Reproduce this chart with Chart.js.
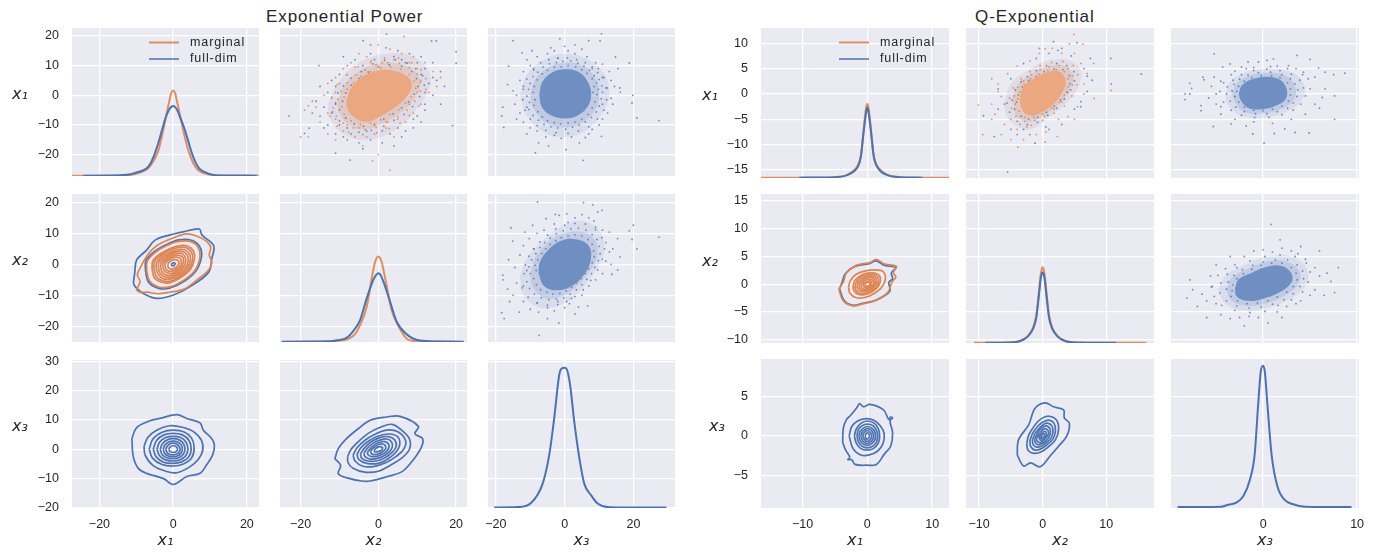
<!DOCTYPE html>
<html>
<head>
<meta charset="utf-8">
<title>Exponential Power and Q-Exponential</title>
<script src="https://cdn.jsdelivr.net/npm/chart.js@4/dist/chart.umd.min.js"></script>
<style>
  body { margin: 0; background: #fff; }
  canvas { position: absolute; filter: blur(0.3px); }
  .title { position: absolute; font: 17px "Liberation Sans", sans-serif; letter-spacing: 0.92px; color: #262626; top: 7px; white-space: nowrap; }
</style>
</head>
<body>
<div class="title" style="left:266px">Exponential Power</div>
<div class="title" style="left:975px">Q-Exponential</div>
<script>
// --- tick labels ---
const epTicksX12 = [-20, 0, 20];
const epTicksY12 = [20, 10, 0, -10, -20];
const epTicksY3 = [30, 20, 10, 0, -10, -20];
const qeTicksX12 = [-10, 0, 10];
const qeTicksX3 = [0, 10];
const qeTicksY1 = [10, 5, 0, -5, -10, -15];
const qeTicksY2 = [15, 10, 5, 0, -5, -10];
const qeTicksY3 = [5, 0, -5];
const legendNames = ['marginal', 'full-dim'];

// --- diagonal density curves, in the panel's axis units ---
const ep11Orange = [[-27.4,-27.05],[-20,-27.05],[-14,-27],[-11,-26.7],[-9,-26],[-7.2,-25],[-6,-23.4],[-5,-21.4],[-4,-18.6],[-3,-13.5],[-2,-7.5],[-1,-1.7],[-.5,.8],[0,1.6],[.5,.8],[1,-1.7],[2,-7.5],[3,-13.2],[4,-18],[5,-21.6],[6,-24],[7,-25.4],[8.5,-26.3],[11,-26.9],[15,-27.05],[23.2,-27.05]];
const ep11Blue = [[-24.4,-27.05],[-16,-27],[-12,-26.7],[-10,-26],[-8,-25.2],[-7,-24.4],[-6,-22.6],[-5,-19.7],[-4,-16],[-3,-11.6],[-2,-7.4],[-1,-4.6],[-.4,-3.8],[0,-3.6],[.5,-3.9],[1.2,-5.2],[2,-7.8],[3,-11],[4,-15],[5,-19.2],[6,-22.4],[7,-24.5],[8.5,-25.8],[11,-26.8],[15,-27],[22.7,-27.05]];
const ep22Orange = [[-24,-24.95],[-14,-24.9],[-10,-24.6],[-8,-24.2],[-6,-22.5],[-4.7,-19.6],[-3,-13.7],[-1.7,-4.5],[-.9,.5],[-.4,2.1],[0,2.5],[.4,2.1],[.9,.5],[2.1,-6.7],[3.4,-14.7],[5.2,-20],[7.3,-24],[9,-24.7],[14,-24.9],[21,-24.95]];
const ep22Blue = [[-24.9,-24.95],[-14,-24.9],[-10.5,-24.5],[-8.2,-23.7],[-6.5,-21.6],[-4.7,-18],[-3,-11],[-1.3,-5],[-.5,-3.3],[0,-2.9],[.5,-3.3],[1.3,-5.6],[3,-12],[4.7,-18.5],[7.3,-22.6],[10.7,-24.6],[15,-24.9],[22,-24.95]];
const ep33Blue = [[-20.5,-19.85],[-13.7,-19.7],[-9.8,-18.3],[-6.4,-11.7],[-4.5,-2],[-3,11],[-1.6,25.2],[-.9,27.5],[0,27.8],[.6,27.3],[1.6,21.8],[2.8,9.3],[4.3,-3.2],[5.7,-11.7],[7.7,-15.7],[9.6,-18.5],[12.5,-19.7],[17,-19.85],[29.6,-19.85]];
const qe11Orange = [[-16.4,-16.5],[-8,-16.5],[-5,-16.4],[-3.2,-16],[-2,-15],[-1.3,-13.6],[-.9,-11.4],[-.6,-7.5],[-.3,-3.8],[-.1,-2.2],[0,-2],[.1,-2.2],[.3,-3.8],[.6,-7.5],[.9,-11.4],[1.3,-13.6],[2,-15],[3.2,-16],[5,-16.4],[8,-16.5],[12.6,-16.5]];
const qe11Blue = [[-10.5,-16.5],[-5,-16.4],[-3.2,-16.05],[-2,-15.2],[-1.4,-14.2],[-1,-12.4],[-.6,-7.8],[-.25,-4.2],[-.1,-2.95],[0,-2.7],[.1,-2.95],[.25,-4.2],[.6,-7.8],[1,-12.4],[1.7,-14.7],[3.2,-16.05],[5,-16.4],[8.5,-16.5]];
const qe22Orange = [[-10.8,-10.55],[-5,-10.5],[-3.5,-10.2],[-2.4,-9.4],[-1.5,-7.8],[-1,-5.6],[-.6,-1.5],[-.3,1.8],[-.1,2.9],[0,3.05],[.1,2.9],[.3,1.8],[.6,-1.5],[1,-5.6],[1.5,-7.8],[2.4,-9.4],[3.5,-10.2],[5,-10.5],[9,-10.55],[16.3,-10.55]];
const qe22Blue = [[-9,-10.55],[-5,-10.5],[-3.5,-10.25],[-2.4,-9.5],[-1.5,-8],[-1,-6],[-.6,-2.1],[-.3,1],[-.1,2],[0,2.1],[.1,2],[.3,1],[.6,-2.1],[1,-6],[1.5,-8],[2.4,-9.5],[3.5,-10.25],[5,-10.5],[11.5,-10.55]];
const qe33Blue = [[-9.1,-9],[-4.45,-8.95],[-3.7,-8.7],[-2.85,-8.45],[-2.1,-7.6],[-1.4,-5.5],[-.9,-2.35],[-.53,3.95],[-.25,8.15],[0,8.9],[.18,8.15],[.46,3.95],[.9,-2.35],[1.5,-6.3],[2.3,-8.1],[3.2,-8.65],[4.45,-8.95],[9.4,-9]];

// --- contour loops, in axis units ---
const ep21Blue = [
  [[-10.8,-6.1],[-10.4,-2.5],[-9.9,1.4],[-7.2,4.6],[-4.9,7.8],[-.8,9.5],[2.8,10.5],[7.1,11.4],[7.8,9.5],[11,6],[10.5,1.9],[9.6,-2.6],[4.6,-7.2],[.1,-9.9],[-4.4,-11],[-8.1,-9.4],[-10.3,-7.2]],
  [[-7.5,-2.1],[-7.4,1.2],[-5.2,4],[-2.1,6.2],[1.5,7.9],[5.2,7.7],[7.2,5.7],[7.7,2.6],[6.2,-2.1],[3.1,-5.4],[-1,-7.7],[-4.1,-7.7],[-6.7,-5.7]],
  [[-.5,-.4],[-.3,.3],[.2,.5],[.5,.4],[.4,-.2],[-.1,-.5]]
];
const ep21Orange = [
  [[-10,-8.3],[-9,-5.6],[-9.7,-3.4],[-9,-1.3],[-7.5,2],[-5.5,5],[-3,7],[0,8.5],[3.5,9.8],[6,9.3],[9,7.5],[10.2,5.5],[9.8,3],[10.5,.5],[9.5,-2],[6.5,-5],[3,-8],[-1,-9],[-4,-9.5],[-7,-9],[-9,-9]],
  [[-7.2,-2],[-7,1],[-5,3.7],[-2,5.9],[1.5,7.4],[4.9,7.3],[6.8,5.4],[7.3,2.4],[5.9,-2],[2.9,-5.1],[-1,-7.3],[-3.9,-7.3],[-6.4,-5.4]],
  [[-5.7,-1.6],[-5.6,.9],[-3.9,3],[-1.5,4.7],[1.2,5.9],[3.9,5.9],[5.5,4.3],[5.8,1.9],[4.7,-1.6],[2.3,-4.1],[-.8,-5.9],[-3.1,-5.8],[-5.1,-4.3]],
  [[-5.2,-1.4],[-5.1,.8],[-3.5,2.7],[-1.4,4.3],[1.1,5.4],[3.5,5.4],[5,3.9],[5.3,1.7],[4.3,-1.4],[2.1,-3.7],[-.7,-5.4],[-2.8,-5.3],[-4.6,-3.9]],
  [[-4.6,-1.3],[-4.5,.6],[-3.1,2.4],[-1.2,3.7],[1,4.7],[3.1,4.7],[4.4,3.4],[4.7,1.5],[3.8,-1.3],[1.9,-3.3],[-.6,-4.7],[-2.5,-4.7],[-4,-3.4]],
  [[-4,-1.1],[-3.9,.6],[-2.7,2.1],[-1,3.3],[.8,4.1],[2.7,4.1],[3.8,3],[4.1,1.3],[3.3,-1.1],[1.6,-2.9],[-.5,-4.1],[-2.2,-4.1],[-3.5,-3]],
  [[-3.4,-.9],[-3.3,.5],[-2.3,1.7],[-.9,2.8],[.7,3.5],[2.3,3.5],[3.2,2.5],[3.4,1.1],[2.8,-.9],[1.4,-2.4],[-.4,-3.5],[-1.9,-3.5],[-3,-2.5]],
  [[-2.8,-.7],[-2.7,.4],[-1.9,1.4],[-.7,2.3],[.6,2.9],[1.9,2.8],[2.7,2.1],[2.8,.9],[2.3,-.7],[1.1,-2],[-.3,-2.9],[-1.5,-2.8],[-2.4,-2.1]],
  [[-2.2,-.6],[-2.1,.3],[-1.5,1.1],[-.6,1.8],[.5,2.3],[1.5,2.2],[2.1,1.6],[2.2,.7],[1.8,-.6],[.9,-1.5],[-.3,-2.2],[-1.2,-2.2],[-1.9,-1.6]],
  [[-1.5,-.4],[-1.2,.5],[-.4,1.2],[.6,1.5],[1.4,1.1],[1.5,.2],[.8,-.9],[-.2,-1.5],[-1.1,-1.3]]
];
const ep31Blue = [
  [[-11.2,3.6],[-9.9,7.4],[-6.3,9.7],[-3.6,10.5],[1,11.8],[3.7,10.5],[7.3,9],[8.2,6.5],[10.5,3.6],[11.2,1.4],[10.7,-2],[9.1,-5.3],[7.3,-8.2],[3.7,-9.3],[.1,-12],[-2.6,-10],[-7.2,-8.2],[-9.4,-6.6],[-10.8,-2.6]],
  [[-7.9,1],[-6.9,4],[-4.5,6.5],[-1,8],[2.5,7.5],[5.5,6],[7.7,3],[8,-.5],[6.8,-3.5],[4.5,-6],[1,-8],[-2,-7.5],[-5.5,-5.5],[-7.6,-2]],
  [[-6.5,0],[-5.5,3.5],[-3,5.8],[0,6.5],[3,5.9],[5,3.8],[5.7,.5],[5,-3],[2.8,-5],[0,-5.7],[-3,-5.2],[-5.6,-3]],
  [[-5.4,0],[-4.5,3],[-2.5,4.9],[0,5.4],[2.5,4.9],[4.3,3],[4.9,0],[4.2,-2.6],[2.3,-4.3],[0,-4.8],[-2.6,-4.4],[-4.6,-2.6]],
  [[-4.4,0],[-3.7,2.4],[-2,4],[0,4.4],[2,4],[3.5,2.4],[4,0],[3.4,-2.2],[1.9,-3.6],[0,-4],[-2.1,-3.6],[-3.7,-2.2]],
  [[-3.5,0],[-2.9,1.9],[-1.6,3.2],[0,3.6],[1.6,3.2],[2.8,1.9],[3.2,0],[2.7,-1.8],[1.5,-2.9],[0,-3.2],[-1.7,-2.9],[-3,-1.8]],
  [[-2.7,0],[-2.2,1.5],[-1.2,2.5],[0,2.8],[1.2,2.5],[2.2,1.5],[2.5,0],[2.1,-1.4],[1.1,-2.3],[0,-2.5],[-1.3,-2.3],[-2.3,-1.4]],
  [[-2,0],[-1.6,1],[-.9,1.8],[0,2.1],[.9,1.8],[1.6,1],[1.9,0],[1.6,-1],[.8,-1.7],[0,-1.9],[-1,-1.7],[-1.7,-1]],
  [[-1.2,0],[-.9,.7],[0,1.2],[.9,.8],[1.2,0],[.9,-.7],[0,-1.1],[-.9,-.7]]
];
const ep32Blue = [
  [[-11.2,-3.2],[-10.3,.2],[-8.2,3.6],[-5.2,7],[-2.1,9.9],[2.1,11],[5.6,11.2],[10.3,7.8],[9.4,5.3],[11.4,3.6],[10.9,.2],[8.2,-4.9],[6,-7.7],[2.6,-9.2],[-2.1,-10.8],[-4.3,-10.8],[-7.3,-10],[-10.3,-8.3],[-9.7,-5.5]],
  [[-7.9,-2.5],[-7,0],[-5,2.8],[-2.5,5.5],[.5,7.5],[3.5,8.5],[6,6.5],[8,3.5],[8,0],[6,-3],[3,-5.5],[0,-7.5],[-3.5,-7.8],[-6.5,-6.5],[-7.8,-4.5]],
  [[-6.5,-2],[-5.5,.5],[-3.5,3],[-1,5],[2,6.5],[5,6],[7,3],[6.5,0],[4.5,-2.5],[2,-4.5],[-1,-5.8],[-4,-5.8],[-6,-4]],
  [[-5.5,-1.8],[-4.5,.5],[-2.5,2.8],[0,4.5],[2.8,5.2],[5,4.2],[5.5,1.5],[4.5,-1],[2.5,-3.2],[0,-4.8],[-3,-4.8],[-5,-3.5]],
  [[-4.6,-1.6],[-3.6,.4],[-2,2.4],[.2,3.9],[2.6,4.3],[4.2,3.2],[4.6,1],[3.6,-1],[1.8,-2.8],[-.5,-4],[-2.8,-4],[-4.3,-3]],
  [[-3.7,-1.3],[-2.8,.4],[-1.4,2],[.4,3.1],[2.2,3.5],[3.4,2.5],[3.6,.8],[2.8,-.9],[1.3,-2.3],[-.5,-3.2],[-2.3,-3.3],[-3.5,-2.4]],
  [[-2.8,-1],[-2,.3],[-1,1.5],[.4,2.4],[1.7,2.6],[2.6,1.8],[2.7,.5],[2.1,-.7],[1,-1.7],[-.4,-2.4],[-1.8,-2.5],[-2.7,-1.8]],
  [[-2,-.7],[-1.4,.3],[-.6,1.1],[.3,1.7],[1.2,1.8],[1.8,1.2],[1.9,.3],[1.4,-.5],[.7,-1.2],[-.3,-1.7],[-1.3,-1.8],[-1.9,-1.3]],
  [[-1.1,-.4],[-.6,.3],[.1,.8],[.9,.8],[1.1,.2],[.7,-.4],[-.1,-.8],[-.9,-.9]]
];
const qe21Blue = [
  [[-4.3,-.8],[-3.9,.3],[-3.4,1.9],[-1.9,3.2],[.3,3.7],[1.3,4.2],[2.7,3.4],[4.4,3],[3.7,2],[3.9,1],[3.3,.3],[3.5,-1.2],[1.3,-2.9],[-.6,-3.4],[-2.2,-3.8],[-3.6,-2.9]]
];
const qe21Orange = [
  [[-4.4,-.9],[-3.7,.4],[-3.2,2.1],[-1.7,3.4],[.4,3.9],[1.4,4.5],[2.5,3.7],[4.5,3.2],[4,2.1],[4.4,1.3],[3.8,.4],[3.2,-1.4],[1.4,-2.9],[-.6,-3.5],[-2.2,-3.9],[-3.7,-3]],
  [[-2.9,-.5],[-2.6,.7],[-1.7,1.8],[-.3,2.4],[1.2,2.6],[2.4,2.3],[2.8,1],[2.2,-.6],[1,-1.7],[-.4,-2.4],[-1.8,-2.4],[-2.7,-1.6]],
  [[-2.2,-.3],[-1.9,.7],[-1.1,1.5],[0,2],[1.1,2],[1.9,1.5],[2,.5],[1.6,-.5],[.7,-1.4],[-.5,-1.9],[-1.5,-1.8],[-2.1,-1.1]],
  [[-1.9,-.3],[-1.6,.6],[-.9,1.3],[0,1.75],[1,1.75],[1.6,1.25],[1.75,.45],[1.4,-.45],[.6,-1.2],[-.45,-1.7],[-1.3,-1.6],[-1.8,-1]],
  [[-1.6,-.3],[-1.3,.5],[-.7,1.1],[0,1.45],[.8,1.45],[1.35,1],[1.45,.35],[1.1,-.35],[.45,-1],[-.35,-1.35],[-1.1,-1.25],[-1.5,-.8]],
  [[-1.3,-.2],[-1,.4],[-.5,.9],[.1,1.2],[.7,1.2],[1.1,.8],[1.2,.2],[.9,-.3],[.3,-.8],[-.3,-1.1],[-.9,-1],[-1.2,-.7]],
  [[-1,-.2],[-.7,.3],[-.3,.7],[.2,.9],[.7,.8],[.95,.4],[.9,-.1],[.5,-.5],[0,-.8],[-.5,-.9],[-.9,-.6]],
  [[-.7,-.15],[-.4,.25],[-.05,.5],[.4,.6],[.65,.25],[.5,-.2],[.1,-.5],[-.4,-.6]],
  [[-.4,-.1],[-.2,.2],[.2,.35],[.4,.15],[.3,-.2],[0,-.35],[-.3,-.3]]
];
const qe31Blue = [
  [[-3.8,-.8],[-3.7,1],[-3.2,2.1],[-2.6,2.6],[-1.6,3.6],[-1.2,4.1],[-.6,3.7],[.4,4],[2.5,3.3],[3.3,2.1],[3.6,2.4],[3.9,2.3],[3.5,1.9],[3.9,.4],[3.6,-1.3],[2.7,-2.2],[1.4,-3.6],[-.1,-3.7],[-1.9,-3.6],[-2.4,-3],[-3,-3],[-2.7,-2.7],[-3.4,-1.7]],
  [[-2.8,0],[-2.4,1.2],[-1.5,1.9],[-.2,2.2],[1,2],[2,1.3],[2.6,.3],[2.4,-1],[1.6,-1.9],[.3,-2.4],[-1,-2.4],[-2.2,-1.6]],
  [[-2,0],[-1.7,.9],[-1,1.6],[0,1.9],[1.1,1.6],[1.7,.9],[1.9,0],[1.7,-.9],[.9,-1.6],[0,-1.8],[-1,-1.6],[-1.7,-.9]],
  [[-1.6,0],[-1.4,.8],[-.8,1.3],[0,1.5],[.9,1.3],[1.4,.7],[1.6,0],[1.4,-.8],[.8,-1.3],[0,-1.5],[-.8,-1.3],[-1.4,-.7]],
  [[-1.3,0],[-1.1,.6],[-.6,1],[0,1.2],[.7,1],[1.1,.6],[1.3,0],[1.1,-.6],[.6,-1],[0,-1.2],[-.7,-1],[-1.1,-.6]],
  [[-1,0],[-.8,.5],[-.4,.8],[0,.95],[.5,.8],[.8,.5],[1,0],[.8,-.5],[.4,-.8],[0,-.95],[-.5,-.8],[-.8,-.5]],
  [[-.7,0],[-.5,.4],[0,.7],[.5,.4],[.7,0],[.5,-.4],[0,-.7],[-.5,-.4]],
  [[-.35,0],[-.2,.25],[0,.4],[.25,.25],[.35,0],[.2,-.25],[0,-.4],[-.25,-.25]]
];
const qe32Blue = [
  [[-4,-2.4],[-3.8,-.5],[-2.2,1.4],[-1.2,3.5],[.4,4.2],[1.7,3.7],[3.3,3.3],[3.4,2.3],[4.2,1.6],[3.8,0],[2.5,-1.3],[1.2,-2.5],[-.4,-3.9],[-1.9,-3.4],[-3,-3.8]],
  [[-2.5,-1],[-2.2,.1],[-1.2,1.4],[-.2,2.2],[1,2.5],[2.2,2],[2.5,.8],[2,-.5],[1,-1.3],[-.2,-2],[-1.4,-2.2],[-2.3,-1.8]],
  [[-2,-.6],[-1.6,.3],[-.8,1.2],[.1,1.8],[1,2],[1.8,1.6],[2,.6],[1.6,-.4],[.7,-1.1],[-.2,-1.6],[-1.2,-1.8],[-1.9,-1.3]],
  [[-1.6,-.5],[-1.2,.3],[-.5,1],[.2,1.5],[.9,1.6],[1.5,1.2],[1.6,.4],[1.2,-.4],[.5,-.9],[-.2,-1.3],[-1,-1.4],[-1.5,-1.1]],
  [[-1.25,-.4],[-.9,.2],[-.4,.8],[.2,1.2],[.7,1.25],[1.15,.9],[1.2,.3],[.9,-.3],[.4,-.7],[-.2,-1],[-.8,-1.1],[-1.15,-.85]],
  [[-.95,-.3],[-.6,.2],[-.2,.6],[.2,.9],[.6,.9],[.9,.6],[.9,.2],[.6,-.2],[.2,-.5],[-.2,-.8],[-.6,-.8],[-.9,-.6]],
  [[-.6,-.2],[-.3,.2],[0,.45],[.4,.6],[.6,.3],[.5,-.1],[.1,-.4],[-.3,-.55]],
  [[-.3,-.1],[0,.2],[.3,.3],[.3,0],[0,-.2],[-.3,-.3]]
];

// --- sample clouds: dense core outline, thinner halo outlines and the samples around them ---
const ep12Core = [[-8.2,-1.6],[-6.9,2.7],[-4.3,6.1],[-.4,8.3],[3.9,8.3],[7.7,6.1],[8.6,3.1],[6.9,-1],[3.9,-4.4],[.4,-7.2],[-3.4,-8.9],[-6.4,-7.2],[-8,-4.4]];
const ep12Mid = [[-10.5,-2.5],[-8.8,3.5],[-5,8],[-.5,10.6],[5,10.6],[9.5,8],[10.8,3.5],[8.5,-2.5],[4.5,-7],[.5,-9.8],[-4,-11.5],[-8,-9.5],[-10,-6]];
const ep12Halo = [[-13,-3],[-10,5],[-5,11],[2,14],[9,13],[13,8],[13,2],[9,-6],[4,-12],[-3,-15],[-9,-13],[-12.5,-8]];
const ep12Blue = [[2.1,20.6],[13.7,18.3],[14.9,18.3],[20,14.7],[20,10.8],[-15.3,10],[-23,-7],[-19,-12.8],[-17.8,-11.1],[19.1,-10.2],[-3.9,18.4],[-9,13],[-11,-19.5],[-7.3,-21.8],[2,16],[5,15],[8,14],[-2,14],[11,13],[14,11],[-6,12],[-8,10],[16,8],[12,9],[15,5],[17,3],[14,0],[16,-3],[12,-5],[11,-9],[9,-11],[6,-14],[3,-13],[1,-16],[-2,-15],[-5,-16],[-8,-15],[-11,-13],[-13,-10],[-15,-7],[-14,-4],[-16,-2],[-13,1],[-12,5],[-10,7],[-14,-11],[-4,-18],[4,-17],[7,-12],[10,-7],[13,4],[10,11],[6,12],[-1,12],[-4,10],[-10,-10],[-12,-6],[-11,-3],[-11,3],[9,-8],[12,-3],[14,6],[-7,-13],[-3,-12],[1,-12],[5,-11],[-2,17],[4,13],[7,11],[11,7],[12,1],[-15,3],[-17,-6],[-9,-14],[-9.2,-2],[-8.4,.8],[-7,3.4],[-5,5.6],[-2.6,7.8],[0,9.6],[2.8,10.2],[6,9.8],[8.6,8],[9.8,5.6],[10.2,3],[9.2,.4],[7.8,-2.2],[6,-4.2],[3.8,-6.2],[1.4,-8],[-1,-9.8],[-3.8,-10.4],[-6.2,-9.6],[-8.4,-7.6],[-10,-4.8],[-11,-2.6],[-10.4,.8],[-9,3.2],[-7,5.8],[-4.4,8],[-1.4,10.6],[1.6,11.8],[4.4,12],[7.4,10.8],[9.6,9],[11.4,6.6],[11.8,3.4],[10.6,-.4],[8.8,-3.8],[6.6,-6.4],[4,-8.4],[1.4,-10.4],[-1.8,-11.8],[-5,-12.4],[-8,-11],[-10,-8.6],[-11.8,-5.6]];
const ep12Orange = [[6.6,19.8],[-1.5,-22.1],[3,-25.2],[-17,-2],[-18,-3.5],[-16,-4],[-19,-5],[-15,-9],[-13,-13],[-11,-15],[-20,-14],[-18,-14],[0,17],[3,15.5],[6,14],[9,13],[-3,13],[-5,14],[-7,11],[-9,9],[-11,6],[-13,4],[-14,0],[-12,-1],[-13,-6],[-11,-8],[-9,-12],[-6,-14],[-3,-14],[-1,-13],[2,-11],[4,-14],[7,-9],[9,-6],[11,-3],[13,1],[15,3],[16,6],[14,8],[12,11],[10,9],[8,11],[4,12],[1,11],[-2,11],[-6,9.5],[-8,7],[-10,4],[-11,1],[-10,-5],[-8,-10],[-5,-11],[-1,-10],[2,-9],[5,-8],[8,-3],[10,1],[11,5],[-4,-17],[0,-20],[-8.8,-.5],[-8,2],[-6.4,4.2],[-4.4,6.4],[-2,8],[.6,9.2],[3.2,9.6],[5.8,8.8],[8,7],[9.2,4.8],[9.6,2.4],[8.4,-.4],[7,-2.6],[5.2,-4.8],[3,-6.4],[.6,-8.2],[-2,-9.4],[-4.6,-9.8],[-7,-8.6],[-8.8,-6.4],[-9.4,-3.8],[-10.4,-1.4],[-9.6,1.4],[-8,4.2],[-5.8,6.8],[-3.4,8.6],[-.6,10.2],[2.4,11],[5.4,10.8],[8,9.4],[10,7.2],[10.8,4.4],[10.8,1.4],[9.4,-2],[7.4,-5],[5,-7.2],[2.4,-9],[-.6,-10.8],[-3.4,-11.6],[-6.4,-11],[-9,-9.4],[-10.8,-7],[-11.6,-4.2],[-12,-.6],[-10.6,3.6],[-8.2,6.8],[-5.2,9.6],[-1.8,11.6],[1.6,12.6],[5.2,12.6],[8.6,11],[11,8.6],[12.2,5.6],[12.2,2],[10.4,-3.6],[8,-6.8],[5.6,-9.4],[2.8,-11.2],[-.4,-12.6],[-4,-13.2],[-7.6,-12.4],[-10.6,-10.4],[-12.4,-7]];

const ep13Core = [[-7.4,0],[-6.5,4.5],[-3.5,7.8],[0,8.8],[3.8,8],[6.5,5],[7.7,.5],[6.7,-3.8],[3.5,-7],[0,-7.8],[-3.8,-6.8],[-6.6,-4]];
const ep13Mid = [[-10,0],[-8.5,5.5],[-4.5,9.5],[0,11],[5,10],[8.8,6],[10,.5],[8.8,-5],[4.5,-9.5],[0,-10.8],[-5,-9.5],[-8.8,-5]];
const ep13Halo = [[-13,0],[-11,7],[-6,12],[0,14],[6,12.5],[11,8],[13,1],[11,-6],[6,-12],[0,-14],[-6,-12.5],[-11,-7]];
const ep13Dots = [[10.7,20.7],[-1.4,19],[-15,18.4],[10.3,18.4],[7,18.4],[14.8,12.9],[18.8,10.9],[15.5,9],[16,2.5],[16.2,1.1],[19.8,0],[19.6,-2.6],[21,-7.6],[27.4,-8.5],[-18.3,-6.9],[-17.7,-10.8],[-18,-4],[-16.6,3.6],[-16.3,9.8],[-12.4,14.3],[-8.5,-19.4],[.4,-18.3],[5.4,-21.9],[-4.7,-17],[-7.6,-16],[4.3,-16],[6,-14.2],[10.7,-13.8],[-3,15],[-4,16],[-5,14],[-8,13],[-9.5,15],[-11,12],[1,15],[3,14],[5,15.5],[6.5,13],[9,11],[11,10.5],[13,8],[13.5,5],[14.5,3],[13.5,-1],[14,-3],[12.5,-6],[11,-8],[10,-10],[8,-11.5],[7,-13],[2,-14],[-1,-14.5],[-3,-13.5],[-5.5,-14],[-8,-12],[-10,-11],[-12,-9],[-13,-6],[-14.5,-3],[-14,0],[-15,1.5],[-13,5],[-12,8],[-10,10],[-11,-13],[-14,-8],[0,16.5],[3,17],[-2,12.5],[8,9],[11,6],[12,2.5],[11,-3],[-11,-4],[-12,3],[-9,8.5]];
const ep13Ring = [[8.2,1],[8.6,3],[8,5.6],[6.5,7.4],[5,8.6],[3.2,9.6],[1,10],[-1,9.6],[-3,9.5],[-5,8.4],[-6.5,7.2],[-8,5.2],[-8.8,3],[-9.2,1],[-8.6,-1.5],[-9,-3.4],[-7.8,-5.5],[-6.5,-7.3],[-5,-8.6],[-3,-9.2],[-1.2,-9.6],[1,-9.3],[3,-9],[5,-8],[6.8,-6.4],[8,-4.2],[8.8,-2.2],[9.4,.2],[9.8,2],[9.3,4.2],[8.6,6.6],[7.2,8.4],[5.6,9.8],[3.8,10.8],[1.8,11.6],[-.5,11.4],[-2.4,11],[-4.4,10.6],[-6.3,9.5],[-7.8,7.8],[-9.2,6.3],[-10,4],[-10.5,2],[-11,-.3],[-10.2,-2.4],[-10.4,-4.8],[-9.2,-6.8],[-7.6,-8.4],[-6,-9.8],[-4,-10.6],[-2,-11],[.3,-11.4],[2.3,-10.7],[4.2,-10],[6,-8.9],[7.8,-7.4],[9.2,-5.6],[10,-3.6],[10.6,-1.2],[11,1],[10.8,3.2],[10,5.3],[9.6,7.6],[8,9.6],[6,11],[3.5,12],[.8,12.6],[-2,12.5],[-4.6,12],[-7,11],[-9,9],[-11,5.5],[-12,2],[-12.2,-1.5],[-11.5,-5],[-10,-8],[-8,-10.2],[-5.5,-11.8],[-2.5,-12.6],[1,-12.8],[4,-12],[7,-10.6],[9.5,-8],[11.4,-5],[12.2,-1.5],[12.4,2.5],[11.4,6],[9.8,9]];

const ep23Core = [[-7.6,-3],[-7.2,.8],[-5,4.4],[-1,7.6],[3.5,8],[7,6],[7.6,1.5],[5.5,-3.5],[2,-7],[-2,-8.4],[-6,-7]];
const ep23Mid = [[-10,-3.5],[-8.8,1.5],[-5.4,6.5],[-.8,9.8],[4.8,10.5],[8.8,7.8],[9.4,2.5],[6.8,-3],[2.8,-7.8],[-1.5,-10.5],[-6,-10.8],[-9.2,-7.5]];
const ep23Halo = [[-13,-4],[-11,2],[-6,8],[-1,12],[5,14],[10,11],[11.5,5],[9,-2],[4,-9],[-1,-13],[-7,-14],[-12,-10]];
const ep23Dots = [[-7.9,20.1],[5.5,19.9],[8.2,19.2],[9.6,16.9],[10.9,17.4],[20,12.6],[18.8,10.8],[19.6,8],[27.4,8.8],[21,5],[-15.6,11.8],[-15.1,7.5],[-16.3,1.5],[-18,-3.5],[-17.9,-5],[-16.6,-8],[-18.3,-15.6],[-17.6,-17.5],[-13.2,-15.4],[-7.4,-22.9],[-1.7,-18.9],[-5,-17.5],[-7.6,-15.4],[4,-13.8],[6.7,-13.4],[1.4,-12.7],[15.4,-1.9],[13.7,-3.2],[16.1,2.4],[13.5,0],[15.4,8.3],[13,10.4],[.6,16.3],[-1.6,15.8],[-2.7,16.1],[-5.4,14.7],[-9.3,12.6],[-11.6,10.4],[-10.3,8.3],[5,16],[7,15],[8.5,14],[3,15],[1,13.5],[-3,13],[-6,11],[-8,10],[-12,6],[-13,3],[-14.5,-1],[-14,-6],[-15,-10],[-12,-12],[-10,-14.5],[-8,-12.5],[-5,-14],[-3,-15],[0,-14],[2,-11],[5,-10],[7,-7],[9,-5],[11,-3],[12,1],[13,4],[12,7],[11,11],[9,12],[14,5],[-12,-7],[-16,-12],[-11,-2],[-2,-12],[3,-16],[-9,5]];
const ep23Ring = [[-8.3,-2],[-8.6,-.3],[-7.8,1.5],[-6.6,3.5],[-5.5,5],[-4.2,6.4],[-2.6,7.6],[-1,8.6],[1,9.2],[3,9.5],[5,9.2],[6.8,8],[8,6.4],[8.4,4.3],[8.6,2.4],[8,.5],[7,-1.4],[6,-3],[4.8,-4.6],[3.4,-6],[2,-7.4],[.4,-8.6],[-1.4,-9.4],[-3.4,-9.6],[-5.2,-9],[-7,-8.2],[-8.2,-6.6],[-9,-4.6],[-10,-3],[-10.4,-.8],[-9.6,1.4],[-8.4,3.4],[-7.2,5.4],[-5.8,7],[-4.2,8.4],[-2.4,9.8],[-.4,10.8],[1.8,11.4],[4,11.6],[6.2,11],[8,9.6],[9.4,8],[10,5.8],[10.3,3.4],[9.8,1.2],[8.8,-1],[7.8,-3],[6.4,-4.8],[5,-6.6],[3.4,-8.2],[1.6,-9.6],[-.2,-10.8],[-2.4,-11.2],[-4.6,-11.4],[-6.8,-10.8],[-8.8,-9.6],[-10.2,-7.8],[-11,-5.6],[-11.8,-3],[-11.4,-.2],[-10.4,2.6],[-9,5],[-7.2,7.2],[-5,9.4],[-2.6,11.4],[0,12.6],[3,13.2],[6,13],[9,11.2],[10.8,8.6],[11.6,5],[11,1.6],[9.6,-1.8],[7.6,-5.2],[5.4,-8.2],[3,-10.4],[.6,-12],[-2,-13],[-5,-13.2],[-8,-12.4],[-10.6,-10.6],[-12.4,-7.6]];

const qe12Core = [[-3.6,-.9],[-3.1,1.25],[-1.7,2.8],[.7,4.3],[2.8,4.3],[3.6,2.4],[3,.1],[1.5,-2.2],[-.6,-3.9],[-2.2,-4.2],[-3.3,-2.9]];
const qe12Mid = [[-4.8,-1.2],[-4,1.6],[-2.1,3.6],[.6,5.3],[3.4,5.5],[4.8,3.4],[4.2,.6],[2.5,-2.1],[-.1,-4.5],[-2.1,-5.5],[-4,-4.4]];
const qe12Halo = [[-6,-1.5],[-5,2],[-2.5,4.5],[.5,6.5],[4,6.7],[6,4.5],[5.5,1],[3.5,-2],[.5,-5],[-2,-7],[-4.5,-6],[-5.8,-4]];
const qe12Blue = [[1.7,10.3],[5.4,10.1],[10.7,7],[10.8,2],[15.5,3.9],[-5.5,-15.4],[-9.3,-4.3],[-7.6,-8.4],[-1.2,-9.7],[2.4,8.6],[7.5,7],[7.8,2.7],[-6,-2],[-7,1],[-4,-8],[-2,-8],[1,-7],[3,-6],[5,-3],[6,-1.5],[7,.5],[6.5,5],[4.5,7.5],[1,8],[-1,7],[-3,6],[-5,3],[-7,-3],[-5,-7],[-3,-7],[.5,-6.5],[6,-2.5],[7,3.5],[-.5,9],[3,9],[-4.1,-1.6],[-3.8,-.2],[-3.2,1.4],[-2.2,2.6],[-1,3.4],[.2,4.4],[1.8,4.9],[3.2,4.8],[4.2,3.6],[4.3,2],[3.8,.4],[2.8,-1.2],[1.8,-2.4],[.6,-3.6],[-.8,-4.6],[-2.2,-5],[-3.4,-4.4],[-4.4,-3],[-4.8,-1.2],[-4.3,.8],[-3.4,2.4],[-2.4,3.4],[-1,4.6],[.6,5.6],[2.2,6],[3.8,5.6],[4.9,4.4],[5,2.6],[4.4,.8],[3.4,-1],[2.2,-2.8],[.8,-4.2],[-.8,-5.6],[-2.4,-6],[-4,-5.4],[-5.2,-3.6],[-5.6,-1.8]];
const qe12Orange = [[4.9,11.7],[4.2,9.9],[6.3,9.8],[10.8,.7],[-3.9,-10.5],[-10.1,-2.2],[-9.4,-8],[-8,3],[.4,-9.5],[2.3,-8.4],[.4,8.9],[8.1,-.9],[-8,-2],[-7.5,-4],[-8,-5],[-6,-6],[-6.5,-8],[-5,-9],[-3,-9],[-1,-8],[.5,-7.5],[2.5,-5],[4,-4.5],[5.5,-2.5],[6.5,0],[6.5,2],[7,4],[6,6],[5,8],[3,8],[1.5,9],[-.5,8],[-2,6.5],[-4,5.5],[-5.5,4],[-7,2],[-7,.5],[-6.5,-.5],[-4,-7],[-2.5,-6.5],[8,6],[5,-5],[-3.9,-1],[-3.6,.4],[-2.9,1.9],[-1.9,3],[-.6,3.9],[.8,4.6],[2.2,4.8],[3.4,4.4],[4,3],[4,1.4],[3.4,-.2],[2.6,-1.6],[1.4,-2.8],[0,-3.9],[-1.4,-4.6],[-2.8,-4.6],[-3.7,-3.4],[-4.3,-2],[-4.5,-.4],[-3.9,1.3],[-3,2.6],[-1.8,3.8],[-.4,4.8],[1,5.4],[2.6,5.6],[4,5],[4.7,3.6],[4.7,1.8],[4,.2],[3,-1.6],[1.8,-3],[.3,-4.4],[-1.2,-5.2],[-2.8,-5.4],[-4.2,-4.4],[-4.9,-2.8],[-5.2,-.8],[-4.6,1.2],[-3.4,3],[-2,4.4],[-.4,5.6],[1.4,6.2],[3.2,6.4],[4.8,5.6],[5.5,3.8],[5.4,1.8],[4.6,-.4],[3.4,-2.4],[1.8,-3.8],[0,-5.2],[-1.8,-6.2],[-3.6,-6],[-5,-5]];

const qe13Core = [[-2.6,0],[-2.2,1.8],[-1,3],[.5,3.4],[1.8,2.8],[2.5,1],[2.4,-1],[1.4,-2.3],[0,-3],[-1.5,-2.8],[-2.3,-1.5]];
const qe13Mid = [[-3.3,0],[-2.8,2.1],[-1.3,3.7],[.5,4.2],[2.4,3.6],[3.4,1.5],[3.3,-1],[2,-2.9],[0,-3.8],[-2,-3.5],[-3,-1.7]];
const qe13Halo = [[-4,0],[-3.4,2.5],[-1.5,4.5],[.5,5],[3,4.3],[4.3,2],[4.2,-1],[2.5,-3.5],[0,-4.7],[-2.5,-4.2],[-3.8,-2]];
const qe13Dots = [[-5.2,7.9],[3.6,7.6],[5,6.8],[-3.5,5.9],[8.7,4.1],[7.5,3.8],[6.6,4.3],[-7.8,2.1],[-7.6,1.1],[-8.3,0],[-8.3,-1.1],[-7.8,0],[-6.4,3.3],[-6.3,2.8],[-6.6,-2.3],[-6.6,-3.3],[-5.3,-6.4],[.1,-9.7],[-1.1,-7.9],[1.2,-7.8],[4.9,-7.7],[7.6,-5],[7.6,-.4],[6.3,-.7],[6.6,1],[5.5,3.3],[5.9,5.1],[4.3,4.3],[2.7,5.6],[1.1,6.9],[.4,6.6],[-.5,6.3],[-1.6,6.3],[-2.3,5.3],[-4.3,5.3],[-5.2,3.3],[-3.4,-5.9],[-1.8,-6.3],[2.3,-6.9],[3.4,-7.6],[-5,0],[-5.5,1.5],[-5,-2],[-4.5,-4],[-3,-5],[-1,-5.5],[1,-5.8],[3,-5],[4.5,-4],[5.5,-2],[5,1],[4.8,3],[3.5,5],[1.5,5.5],[-1,5.2],[-3,4.5],[-4.5,2.5],[-4.5,-2.5],[-5.8,-.8],[6,-2.8]];
const qe13Ring = [[-2.8,.5],[-2.6,1.5],[-2,2.5],[-1.2,3.2],[-.2,3.6],[.9,3.6],[1.8,3.2],[2.6,2.2],[2.9,1],[2.9,-.2],[2.7,-1.4],[2,-2.4],[1,-3],[0,-3.3],[-1,-3.2],[-2,-2.6],[-2.6,-1.6],[-3,-.5],[-3.3,.6],[-3.1,1.9],[-2.5,2.9],[-1.6,3.7],[-.5,4.2],[.8,4.3],[2,3.8],[2.9,3],[3.4,2],[3.7,.8],[3.6,-.5],[3.2,-1.8],[2.6,-2.8],[1.5,-3.5],[.4,-3.9],[-.8,-3.9],[-2,-3.5],[-2.9,-2.6],[-3.5,-1.4],[-3.9,0],[-3.8,1.4],[-3.2,2.7],[-2.3,3.8],[-1,4.6],[.4,4.9],[1.8,4.6],[3,3.9],[3.9,2.7],[4.3,1.2],[4.5,-.4],[4,-2],[3.2,-3.2],[2,-4.1],[.6,-4.6],[-.9,-4.6],[-2.3,-4.2],[-3.4,-3.2],[-4.2,-1.6],[-4.6,.5],[-4.2,2.2],[-3.4,3.8],[-1.8,5],[.8,5.4],[2.6,5],[4.2,3.8]];

const qe23Core = [[-3,-.8],[-2.6,.9],[-1.3,2],[.5,3.2],[2,3.3],[3,2],[3,.3],[1.8,-1.4],[0,-2.6],[-1.6,-3],[-2.8,-2.2]];
const qe23Mid = [[-3.9,-.9],[-3.3,1.2],[-1.6,2.8],[.5,4.1],[2.5,4.1],[3.8,2.5],[3.8,.2],[2.4,-2],[.2,-3.5],[-1.8,-3.9],[-3.4,-2.9]];
const qe23Halo = [[-4.8,-1],[-4,1.5],[-1.8,3.6],[.5,5],[3,5],[4.6,3],[4.6,0],[3,-2.5],[.5,-4.3],[-2,-4.8],[-4,-3.5]];
const qe23Dots = [[.85,10.8],[-8.1,-2.5],[-7.5,-1],[-7,-4],[-6.5,-1.8],[-6,-6],[-5.5,-.5],[-5.6,1.5],[-5,-3.5],[-4.5,-5.5],[-4,2.8],[-3.5,-6.2],[-3,3.5],[-2.5,-6],[-2,5],[-1.5,-5.8],[-1,6],[-.5,-6],[0,6.2],[1,5.8],[1.5,-5],[2,6.5],[2.5,-4],[3,6],[3.5,-3.5],[3.7,5.5],[4,-3],[4.5,4.5],[5,-2],[5.5,3],[6,1.5],[6.5,-2],[5.5,-1],[6.8,2],[7.2,.5],[7.6,-1.5],[8,3],[-6,-3],[-5,3.5],[-2,-7.5],[.5,-7],[2,-6],[-3.5,5],[4,6.8],[6,6],[1.8,8],[-7.8,.8]];
const qe23Ring = [[-3.3,-1.2],[-3.2,-.1],[-2.8,1],[-2.1,1.9],[-1.2,2.7],[-.2,3.4],[.9,3.8],[2,3.8],[3,3],[3.5,2],[3.6,.8],[3.2,-.4],[2.5,-1.4],[1.5,-2.3],[.5,-3],[-.6,-3.4],[-1.7,-3.5],[-2.7,-3],[-3.4,-2.2],[-3.9,-.9],[-3.7,.4],[-3.1,1.6],[-2.2,2.6],[-1.1,3.4],[0,4],[1.3,4.4],[2.6,4.4],[3.6,3.5],[4.2,2.4],[4.3,1],[3.9,-.4],[3.2,-1.7],[2.2,-2.8],[1,-3.6],[-.2,-4.1],[-1.5,-4.3],[-2.8,-3.9],[-3.9,-3],[-4.6,-1.6],[-4.5,.2],[-3.8,1.8],[-2.8,3],[-1.4,4.2],[.2,5],[1.8,5.3],[3.4,5],[4.6,3.8],[5,2.2],[4.8,.4],[4.2,-1.4],[3,-2.8],[1.6,-3.8],[.2,-4.9],[-1.4,-5.1],[-3,-4.7],[-4.4,-3.8],[-5.2,-2.2],[-5.4,-.4],[-4.8,1.6]];

// --- panel layout on the page ---
const BLUE = '#4C72B0', ORANGE = '#DD8452';
const toXY = a => a.map(([x, y]) => ({ x, y }));

function kde(curve, color) {
  return { data: toXY(curve), showLine: true, borderColor: color, borderWidth: 2, pointRadius: 0, cubicInterpolationMode: 'monotone' };
}
function loops(list, color) {
  return list.map(l => ({ data: toXY([...l, l[0]]), showLine: true, borderColor: color, borderWidth: 1.7, pointRadius: 0, tension: 0.35 }));
}
function dots(list, color) {
  return { data: toXY(list), showLine: false, pointRadius: 0.9, borderWidth: 0, backgroundColor: color };
}
function patch(list, color) {
  return { data: toXY([...list, list[0]]), showLine: true, fill: 'shape', borderWidth: 0, borderColor: 'transparent', backgroundColor: color, pointRadius: 0, tension: 0.4 };
}
function blueCloud(core, mid, halo, stray, ring) {
  return [patch(core, '#6F8FC3'), dots([...stray, ...ring], 'rgba(76,114,176,0.8)'), patch(mid, 'rgba(111,143,195,0.24)'), patch(halo, 'rgba(111,143,195,0.14)')];
}
function mixedCloud(core, mid, halo, blue, orange) {
  return [patch(core, '#EBA77F'), dots(orange, 'rgba(221,132,82,0.85)'), dots(blue, 'rgba(76,114,176,0.8)'),
    patch(mid, 'rgba(222,160,130,0.3)'), patch(halo, 'rgba(170,150,165,0.16)')];
}

const rowsEP = [[28, 148, [-27.17, 22.66], epTicksY12], [194, 148, [-25.06, 22.68], epTicksY12], [360, 148, [-20, 30.4], epTicksY3]];
const colsEP = [[72, 187, [-27.45, 23.3], epTicksX12], [280, 187, [-25.3, 22.8], epTicksX12], [488, 187, [-22.3, 32.1], epTicksX12]];
const rowsQE = [[28, 150, [-16.57, 13], qeTicksY1], [194, 149, [-10.6, 16.27], qeTicksY2], [359, 149, [-9.12, 9.75], qeTicksY3]];
const colsQE = [[761, 188, [-16.4, 12.6], qeTicksX12], [966, 188, [-12.05, 17.5], qeTicksX12], [1171, 188, [-9.8, 10.2], qeTicksX3]];

const figures = [
  { rows: rowsEP, cols: colsEP, marginLeft: 72, yNameX: [20, 20, 20], cells: [
    [[kde(ep11Blue, BLUE), kde(ep11Orange, 'rgba(221,132,82,0.9)')],
     mixedCloud(ep12Core, ep12Mid, ep12Halo, ep12Blue, ep12Orange),
     blueCloud(ep13Core, ep13Mid, ep13Halo, ep13Dots, ep13Ring)],
    [[...loops(ep21Orange, ORANGE), ...loops(ep21Blue, BLUE)],
     [kde(ep22Blue, BLUE), kde(ep22Orange, 'rgba(221,132,82,0.9)')],
     blueCloud(ep23Core, ep23Mid, ep23Halo, ep23Dots, ep23Ring)],
    [loops(ep31Blue, BLUE), loops(ep32Blue, BLUE), [kde(ep33Blue, BLUE)]]
  ] },
  { rows: rowsQE, cols: colsQE, marginLeft: 61, yNameX: [710, 710, 717], cells: [
    [[kde(qe11Blue, BLUE), kde(qe11Orange, 'rgba(221,132,82,0.9)')],
     mixedCloud(qe12Core, qe12Mid, qe12Halo, qe12Blue, qe12Orange),
     blueCloud(qe13Core, qe13Mid, qe13Halo, qe13Dots, qe13Ring)],
    [[...loops(qe21Orange, ORANGE), ...loops(qe21Blue, BLUE)],
     [kde(qe22Blue, BLUE), kde(qe22Orange, 'rgba(221,132,82,0.9)')],
     blueCloud(qe23Core, qe23Mid, qe23Halo, qe23Dots, qe23Ring)],
    [loops(qe31Blue, BLUE), loops(qe32Blue, BLUE), [kde(qe33Blue, BLUE)]]
  ] }
];

// paints the panel, and draws the legend and the upright y names
const panelDecor = {
  id: 'panelDecor',
  beforeDraw(chart) {
    const { ctx, chartArea: a } = chart;
    ctx.save();
    ctx.fillStyle = '#EAEAF2';
    ctx.fillRect(a.left, a.top, a.right - a.left, a.bottom - a.top);
    ctx.restore();
  },
  afterDraw(chart, args, opts) {
    const { ctx, chartArea: a } = chart;
    ctx.save();
    ctx.fillStyle = '#262626';
    ctx.textBaseline = 'middle';
    if (opts.yName) {
      ctx.font = 'italic 16px "DejaVu Sans"';
      ctx.textAlign = 'center';
      ctx.fillText(opts.yName, opts.yNameX, (a.top + a.bottom) / 2 - 7);
    }
    if (opts.legend) {
      ctx.font = '12.5px "Liberation Sans"';
      ctx.letterSpacing = '0.9px';
      ctx.textAlign = 'left';
      legendNames.forEach((name, i) => {
        const y = a.top + 14.5 + i * 16.5;
        ctx.strokeStyle = i === 0 ? 'rgba(221,132,82,0.9)' : BLUE;
        ctx.lineWidth = i === 0 ? 2 : 1.5;
        ctx.beginPath();
        ctx.moveTo(a.left + opts.legend, y);
        ctx.lineTo(a.left + opts.legend + 30, y);
        ctx.stroke();
        ctx.fillText(name, a.left + opts.legend + 41, y);
      });
    }
    ctx.restore();
  }
};

function makeAxis(range, tickList, showLabels, size, isX, name) {
  return {
    type: 'linear', min: range[0], max: range[1],
    afterBuildTicks: s => { s.ticks = tickList.map(value => ({ value })); },
    afterFit: s => {
      if (isX) s.height = size; else s.width = size;
      s.paddingLeft = s.paddingRight = s.paddingTop = s.paddingBottom = 0;
    },
    grid: { color: '#FFFFFF', lineWidth: 1.3, drawTicks: false },
    border: { display: false },
    title: { display: !!name, text: name, color: '#262626', font: { family: 'DejaVu Sans', style: 'italic', size: 16 }, padding: { top: 0, bottom: 6 } },
    ticks: {
      display: showLabels, color: '#262626', font: { family: 'Liberation Sans', size: 12.5 },
      padding: isX ? 9 : 13, autoSkip: false, maxRotation: 0, minRotation: 0,
      callback: v => String(v).replace('-', '\u2212')
    }
  };
}

const TOP_PAD = 8, EDGE = 4, RIGHT_PAD = 12;
figures.forEach(fig => {
  fig.rows.forEach(([top, h, yRange, yTicks], r) => {
    fig.cols.forEach(([left, w, xRange, xTicks], c) => {
      const first = c === 0, last = r === fig.rows.length - 1;
      const marginLeft = first ? fig.marginLeft : EDGE, marginBottom = last ? 48 : EDGE;
      const canvas = document.createElement('canvas');
      canvas.width = w + marginLeft + RIGHT_PAD;
      canvas.height = h + TOP_PAD + marginBottom;
      canvas.style.left = (left - marginLeft) + 'px';
      canvas.style.top = (top - TOP_PAD) + 'px';
      document.body.appendChild(canvas);
      new Chart(canvas, {
        type: 'scatter',
        data: { datasets: fig.cells[r][c] },
        plugins: [panelDecor],
        options: {
          responsive: false, animation: false,
          layout: { padding: { left: 0, top: TOP_PAD, right: RIGHT_PAD, bottom: 0 } },
          scales: {
            x: makeAxis(xRange, xTicks, last, marginBottom, true, last ? 'x' + '\u2081\u2082\u2083'[c] : ''),
            y: makeAxis(yRange, yTicks, first, marginLeft, false, '')
          },
          plugins: {
            legend: { display: false }, tooltip: { enabled: false },
            panelDecor: {
              yName: first ? 'x' + '\u2081\u2082\u2083'[r] : '',
              yNameX: fig.yNameX[r] - (left - marginLeft),
              legend: r === 0 && c === 0 ? (fig === figures[0] ? 77 : 78) : 0
            }
          }
        }
      });
    });
  });
});
</script>
</body>
</html>
